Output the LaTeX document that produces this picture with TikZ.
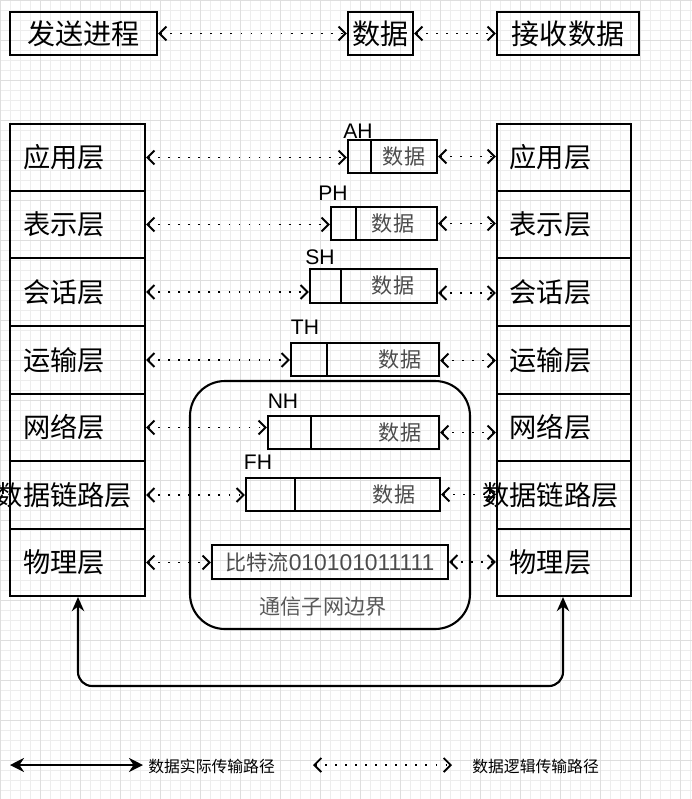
\documentclass[tikz,border=0pt]{standalone}
\usepackage{fontspec}
\setmainfont{Liberation Sans}
\newfontfamily\cjk{Noto Sans CJK SC}
\usetikzlibrary{arrows.meta}
\tikzset{
    box/.style = {draw, line width=1.2pt, inner sep=0pt, font=\cjk\fontsize{15.5}{15.5}\selectfont},
    pkt/.style = {draw, line width=1.2pt, inner sep=0pt},
    plain/.style = {inner sep=0pt, text=black!70, font=\cjk\fontsize{12}{12}\selectfont},
    hdr/.style = {inner sep=0pt, font=\fontsize{12}{12}\selectfont},
    logic/.style = {line width=1.1pt, dash pattern=on 1.1pt off 4.6pt, {Straight Barb[length=4pt,width=8pt,line width=1.1pt]}-{Straight Barb[length=4pt,width=8pt,line width=1.1pt]}},
    real/.style = {line width=1.2pt, rounded corners=8pt},
}
\begin{document}
\begin{tikzpicture}[x=0.02cm, y=-0.02cm]
  \useasboundingbox (0,0) rectangle (692,799);
  % grid
  \foreach \i in {0,10,...,690} \draw[black!7, line width=0.3pt] (\i,0) -- (\i,799);
  \foreach \i in {0,10,...,790} \draw[black!7, line width=0.3pt] (0,\i) -- (692,\i);
  \foreach \i in {0,40,...,690} \draw[black!13, line width=0.4pt] (\i,0) -- (\i,799);
  \foreach \i in {0,40,...,790} \draw[black!13, line width=0.4pt] (0,\i) -- (692,\i);

  % top row
  \node[box, minimum width=147*0.02cm, minimum height=43*0.02cm, font=\cjk\fontsize{16}{16}\selectfont] (send) at (83.5,33.5) {发送进程};
  \node[box, minimum width=65*0.02cm, minimum height=43*0.02cm, font=\cjk\fontsize{16}{16}\selectfont] (data) at (380.5,33.5) {数据};
  \node[box, minimum width=142*0.02cm, minimum height=43*0.02cm, font=\cjk\fontsize{16}{16}\selectfont] (recv) at (568,33.5) {接收数据};
  \draw[logic] (send) -- (data);
  \draw[logic] (data) -- (recv);

  % layer stacks
  \foreach \n/\t/\a/\b in {1/应用层/124/191, 2/表示层/191/258, 3/会话层/258/326, 4/运输层/326/394, 5/网络层/394/461, 6/数据链路层/461/529, 7/物理层/529/596} {
    \node[box, text width=135*0.02cm, align=center, minimum height={(\b-\a)*0.02cm}] (L\n) at (77.5,{(\a+\b)/2}) {\hspace{-1em}\t\hspace{-1em}};
    \node[box, text width=134*0.02cm, align=center, minimum height={(\b-\a)*0.02cm}] (R\n) at (564,{(\a+\b)/2}) {\hspace{-1em}\t\hspace{-1em}};
  }

  % subnet boundary
  \node[draw, line width=1.2pt, rounded corners=35*0.02cm, minimum width=280*0.02cm, minimum height=248*0.02cm] (net) at (330,505) {};
  \node[plain, text=black!65] (netlbl) at (323,607) {通信子网边界};

  % packets: name / left / divider / right / top / bottom / label x / label y / data text x
  \foreach \n/\h/\l/\d/\r/\t/\bt/\hx/\hy/\dx in {1/AH/348/371/437/140/173/358/131/404, 2/PH/331/356/437/207/240/333/193/393, 3/SH/310/341/437/269/303/320/257/393, 4/TH/291/327/439/343/376/305/327/400, 5/NH/268/311/439/416/449/283/401/400, 6/FH/246/295/440/478/511/258/462/394} {
    \node[pkt, minimum width={(\d-\l)*0.02cm}, minimum height={(\bt-\t)*0.02cm}] (H\n) at ({(\l+\d)/2},{(\t+\bt)/2}) {};
    \node[pkt, minimum width={(\r-\d)*0.02cm}, minimum height={(\bt-\t)*0.02cm}] (D\n) at ({(\d+\r)/2},{(\t+\bt)/2}) {};
    \node[plain] (X\n) at (\dx,{(\t+\bt)/2}) {数据};
    \node[hdr] (T\n) at (\hx,\hy) {\h};
  }
  \node[pkt, minimum width=236*0.02cm, minimum height=34*0.02cm, plain, draw=black] (bits) at (330,562) {比特流{\fontsize{13}{13}\selectfont\rmfamily 010101011111}};

  % logical paths
  \foreach \n in {1,...,6} {
    \draw[logic] (L\n.east) -- (L\n.east -| H\n.west);
  }
  \draw[logic] (L7.east) -- (L7.east -| bits.west);
  \draw[logic] (D1.east) -- (D1.east -| R1.west);
  \draw[logic] (D2.east) -- (D2.east -| R2.west);
  \draw[logic] ([yshift=-7*0.02cm]D3.east) -- ([yshift=-7*0.02cm]D3.east -| R3.west);
  \draw[logic] ([yshift=-1*0.02cm]D4.east) -- ([yshift=-1*0.02cm]D4.east -| R4.west);
  \draw[logic] (D5.east) -- (D5.east -| R5.west);
  \draw[logic] (D6.east) -- (D6.east -| R6.west);
  \draw[logic] (bits.east) -- (bits.east -| R7.west);

  % physical path
  \coordinate (pl) at (78,686);
  \coordinate (pr) at (563,686);
  \draw[real, {Stealth[length=8pt,width=7pt]}-{Stealth[length=8pt,width=7pt]}] (L7.south -| pl) -- (pl) -- (pr) -- (R7.south -| pr);

  % legend
  \coordinate (a1) at (10,765);
  \coordinate (a2) at (143,765);
  \coordinate (b1) at (313,765);
  \coordinate (b2) at (452,765);
  \draw[line width=1.2pt, {Stealth[length=8pt,width=8pt]}-{Stealth[length=8pt,width=8pt]}] (a1) -- (a2);
  \draw[logic] (b1) -- (b2);
  \node[anchor=west, inner sep=0pt, font=\cjk\fontsize{9}{9}\selectfont] (lg1) at (148,766) {数据实际传输路径};
  \node[anchor=west, inner sep=0pt, font=\cjk\fontsize{9}{9}\selectfont] (lg2) at (472,766) {数据逻辑传输路径};
\end{tikzpicture}
\end{document}
